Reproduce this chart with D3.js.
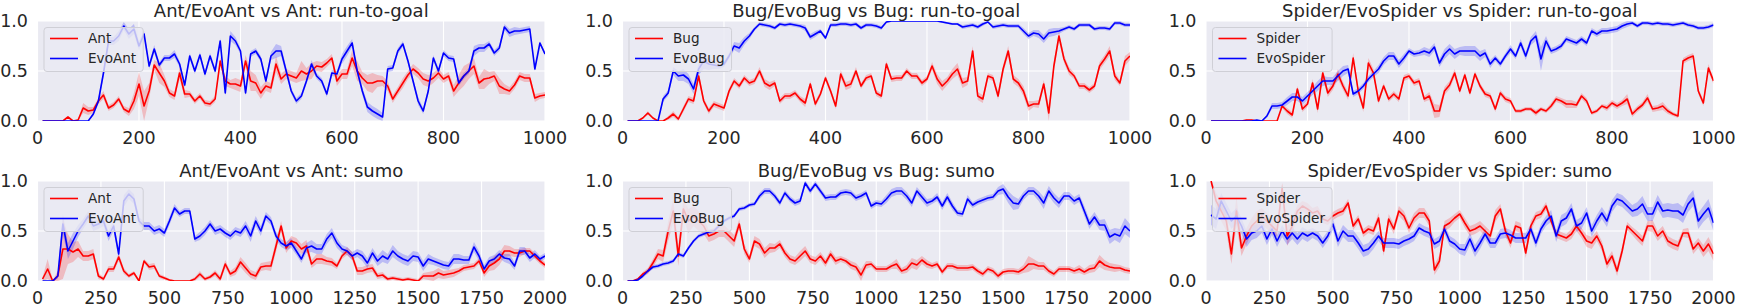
<!DOCTYPE html>
<html><head><meta charset="utf-8">
<script src="https://cdn.jsdelivr.net/npm/d3@7"></script>
<style>
html,body{margin:0;padding:0;background:#fff;}
svg text{font-family:"DejaVu Sans",sans-serif;fill:#262626;}
</style></head>
<body><svg id="c" width="1738" height="307"></svg>
<script>
// ---------- data ----------
const titles = [
  "Ant/EvoAnt vs Ant: run-to-goal", "Bug/EvoBug vs Bug: run-to-goal", "Spider/EvoSpider vs Spider: run-to-goal",
  "Ant/EvoAnt vs Ant: sumo", "Bug/EvoBug vs Bug: sumo", "Spider/EvoSpider vs Spider: sumo"
];
const baseNames = ["Ant", "Bug", "Spider", "Ant", "Bug", "Spider"];
const evoNames = ["EvoAnt", "EvoBug", "EvoSpider", "EvoAnt", "EvoBug", "EvoSpider"];
const xTicksRun = [0, 200, 400, 600, 800, 1000];
const xTicksSumo = [0, 250, 500, 750, 1000, 1250, 1500, 1750, 2000];
const yTicks = [0.0, 0.5, 1.0];
const stepsRun = d3.range(10, 1001, 10);
const stepsSumo = d3.range(20, 2001, 20);

// Ant run-to-goal
const antRunBase = [0,0,0,0,0,0.04,0,0.01,0.13,0.1, 0.11,0.2,0.26,0.13,0.16,0.22,0.12,0.09,0.2,0.37,
 0.15,0.3,0.56,0.48,0.4,0.28,0.25,0.48,0.27,0.27, 0.2,0.25,0.18,0.17,0.22,0.6,0.4,0.37,0.37,0.35,
 0.6,0.4,0.38,0.28,0.35,0.33,0.57,0.42,0.47,0.45, 0.43,0.5,0.47,0.5,0.55,0.54,0.58,0.63,0.4,0.47,
 0.47,0.63,0.5,0.43,0.38,0.38,0.4,0.4,0.35,0.22, 0.3,0.38,0.46,0.52,0.48,0.42,0.4,0.43,0.48,0.42,
 0.45,0.3,0.38,0.45,0.5,0.55,0.38,0.42,0.43,0.45, 0.35,0.32,0.3,0.36,0.45,0.43,0.43,0.23,0.25,0.26];
const antRunBaseSd = [0,0,0,0,0,0.01,0,0.01,0.05,0.04, 0.03,0.03,0.04,0.03,0.03,0.03,0.03,0.04,0.08,0.12,
 0.15,0.08,0.05,0.1,0.06,0.04,0.04,0.06,0.04,0.03, 0.03,0.03,0.03,0.03,0.03,0.04,0.05,0.04,0.06,0.06,
 0.06,0.1,0.08,0.06,0.05,0.05,0.08,0.05,0.05,0.05, 0.05,0.1,0.06,0.08,0.05,0.05,0.04,0.04,0.05,0.05,
 0.05,0.08,0.1,0.06,0.08,0.1,0.06,0.05,0.05,0.04, 0.04,0.05,0.04,0.05,0.05,0.06,0.06,0.05,0.05,0.04,
 0.04,0.06,0.08,0.1,0.08,0.08,0.06,0.1,0.06,0.05, 0.08,0.05,0.04,0.04,0.04,0.04,0.04,0.04,0.03,0.03];
const antRunEvo = [0,0,0,0,0,0,0,0,0,0, 0.07,0.2,0.48,0.8,0.8,0.85,0.95,0.87,0.92,0.75,
 0.87,0.55,0.72,0.56,0.63,0.63,0.67,0.57,0.36,0.65, 0.5,0.66,0.47,0.65,0.5,0.8,0.28,0.85,0.8,0.7,
 0.28,0.67,0.7,0.62,0.4,0.65,0.7,0.7,0.5,0.3, 0.2,0.25,0.4,0.57,0.45,0.4,0.27,0.48,0.47,0.62,
 0.7,0.78,0.5,0.3,0.14,0.1,0.07,0.04,0.52,0.53, 0.7,0.77,0.6,0.4,0.2,0.1,0.3,0.63,0.5,0.68,
 0.63,0.62,0.38,0.45,0.5,0.7,0.73,0.73,0.77,0.68, 0.73,0.94,0.88,0.9,0.9,0.91,0.92,0.52,0.78,0.67];
const antRunEvoSd = [0,0,0,0,0,0,0,0,0,0, 0.02,0.03,0.04,0.04,0.04,0.05,0.04,0.05,0.05,0.05,
 0.03,0.03,0.04,0.03,0.03,0.03,0.04,0.03,0.03,0.03, 0.03,0.03,0.03,0.03,0.03,0.03,0.03,0.05,0.04,0.03,
 0.03,0.03,0.03,0.03,0.03,0.04,0.07,0.05,0.04,0.03, 0.03,0.03,0.03,0.04,0.03,0.03,0.03,0.03,0.03,0.05,
 0.05,0.04,0.03,0.04,0.05,0.05,0.05,0.04,0.03,0.03, 0.03,0.03,0.03,0.03,0.04,0.03,0.03,0.03,0.03,0.03,
 0.03,0.03,0.03,0.03,0.03,0.05,0.04,0.04,0.03,0.03, 0.03,0.03,0.04,0.04,0.03,0.03,0.03,0.02,0.02,0.02];

// Bug run-to-goal
const bugRunBase = [0,0,0,0.03,0.08,0.03,0,0,0.03,0.07, 0.02,0.12,0.22,0.2,0.45,0.2,0.1,0.17,0.15,0.13,
 0.3,0.4,0.35,0.43,0.38,0.4,0.5,0.38,0.35,0.38, 0.2,0.25,0.25,0.28,0.22,0.18,0.37,0.17,0.27,0.43,
 0.3,0.15,0.47,0.35,0.37,0.5,0.35,0.43,0.45,0.28, 0.25,0.57,0.42,0.43,0.43,0.5,0.45,0.45,0.38,0.42,
 0.55,0.42,0.35,0.4,0.47,0.52,0.38,0.4,0.7,0.25, 0.22,0.45,0.43,0.25,0.52,0.7,0.42,0.38,0.3,0.15,
 0.17,0.17,0.37,0.08,0.55,0.85,0.62,0.5,0.45,0.35, 0.35,0.31,0.35,0.55,0.62,0.7,0.45,0.38,0.6,0.65];
const bugRunBaseSd = [0,0,0,0.01,0.02,0.01,0,0,0.02,0.03, 0.02,0.03,0.03,0.03,0.04,0.03,0.03,0.03,0.03,0.03,
 0.03,0.03,0.03,0.03,0.03,0.03,0.04,0.04,0.04,0.03, 0.03,0.03,0.03,0.03,0.03,0.04,0.03,0.03,0.03,0.03,
 0.03,0.03,0.04,0.04,0.04,0.04,0.03,0.03,0.03,0.03, 0.03,0.03,0.03,0.03,0.03,0.03,0.03,0.03,0.03,0.03,
 0.04,0.05,0.05,0.04,0.05,0.06,0.05,0.04,0.05,0.04, 0.04,0.03,0.03,0.04,0.04,0.05,0.04,0.04,0.05,0.05,
 0.03,0.04,0.04,0.08,0.05,0.05,0.04,0.04,0.03,0.03, 0.03,0.03,0.03,0.04,0.04,0.05,0.04,0.03,0.05,0.04];
const bugRunEvo = [0,0,0,0,0,0,0,0.22,0.28,0.5, 0.45,0.46,0.42,0.32,0.52,0.6,0.57,0.56,0.55,0.57,
 0.65,0.75,0.73,0.8,0.85,0.92,0.97,0.96,0.95,0.93, 0.97,0.96,0.97,0.96,0.95,0.93,0.84,0.87,0.9,0.83,
 0.96,0.96,0.97,0.97,0.96,0.97,0.93,0.96,0.96,0.95, 0.93,0.99,1.0,1.0,1.0,1.0,1.0,1.0,1.0,1.0,
 1.0,1.0,0.99,0.98,0.97,0.97,0.94,0.95,0.96,0.94, 0.97,0.99,0.94,0.95,0.96,0.95,0.95,0.95,0.9,0.85,
 0.88,0.87,0.82,0.88,0.89,0.9,0.92,0.94,0.92,0.96, 0.96,0.96,0.92,0.93,0.93,0.92,0.98,0.98,0.96,0.96];
const bugRunEvoSd = [0,0,0,0,0,0,0,0.03,0.03,0.04, 0.05,0.06,0.05,0.05,0.06,0.08,0.06,0.04,0.03,0.03,
 0.03,0.04,0.05,0.04,0.03,0.02,0.02,0.02,0.02,0.02, 0.02,0.02,0.02,0.02,0.02,0.03,0.03,0.03,0.02,0.02,
 0.02,0.02,0.02,0.02,0.02,0.02,0.02,0.02,0.02,0.02, 0.02,0.01,0.01,0.01,0.01,0.01,0.01,0.01,0.01,0.01,
 0.01,0.01,0.01,0.01,0.01,0.01,0.02,0.02,0.02,0.02, 0.02,0.01,0.02,0.02,0.02,0.02,0.02,0.02,0.03,0.03,
 0.03,0.04,0.04,0.04,0.04,0.03,0.02,0.02,0.02,0.02, 0.02,0.02,0.02,0.02,0.02,0.02,0.02,0.02,0.02,0.02];

// Spider run-to-goal
const spiderRunBase = [0,0,0,0,0,0,0,0.01,0.01,0, 0,0,0,0,0.15,0.1,0.06,0.32,0.12,0.17,
 0.38,0.12,0.48,0.28,0.35,0.47,0.35,0.25,0.63,0.3, 0.13,0.58,0.48,0.2,0.35,0.22,0.27,0.22,0.43,0.45,
 0.38,0.4,0.22,0.25,0.1,0.1,0.3,0.36,0.48,0.3, 0.46,0.28,0.47,0.35,0.27,0.25,0.12,0.28,0.22,0.2,
 0.1,0.1,0.12,0.12,0.08,0.12,0.1,0.15,0.22,0.2, 0.17,0.17,0.16,0.25,0.2,0.08,0.1,0.15,0.13,0.18,
 0.15,0.18,0.22,0.07,0.12,0.16,0.23,0.12,0.13,0.15, 0.1,0.07,0.05,0.6,0.63,0.65,0.3,0.18,0.53,0.4];
const spiderRunBaseSd = [0,0,0,0,0,0,0,0.01,0.01,0, 0,0,0,0,0.02,0.03,0.03,0.03,0.03,0.03,
 0.04,0.04,0.05,0.04,0.04,0.05,0.04,0.04,0.05,0.04, 0.04,0.05,0.04,0.03,0.03,0.03,0.03,0.03,0.03,0.03,
 0.03,0.03,0.03,0.04,0.07,0.06,0.04,0.04,0.04,0.03, 0.03,0.03,0.03,0.03,0.03,0.03,0.03,0.03,0.03,0.03,
 0.02,0.02,0.02,0.02,0.03,0.02,0.02,0.03,0.03,0.03, 0.04,0.04,0.03,0.03,0.03,0.02,0.02,0.02,0.03,0.03,
 0.03,0.03,0.05,0.03,0.03,0.03,0.04,0.03,0.03,0.04, 0.03,0.02,0.02,0.03,0.03,0.03,0.03,0.03,0.04,0.03];
const spiderRunEvo = [0,0,0,0,0,0,0,0,0,0.01, 0,0.05,0.15,0.15,0.16,0.2,0.24,0.24,0.2,0.25,
 0.3,0.35,0.4,0.4,0.4,0.45,0.5,0.52,0.27,0.3, 0.35,0.42,0.47,0.52,0.6,0.65,0.65,0.57,0.63,0.7,
 0.67,0.68,0.7,0.68,0.74,0.58,0.67,0.72,0.67,0.7, 0.7,0.7,0.7,0.65,0.68,0.57,0.63,0.57,0.65,0.72,
 0.65,0.78,0.65,0.8,0.85,0.62,0.8,0.7,0.72,0.75, 0.82,0.8,0.78,0.82,0.78,0.9,0.87,0.9,0.9,0.91,
 0.92,0.95,0.97,0.98,0.95,0.98,0.98,0.97,0.98,0.97, 0.97,0.96,0.97,0.98,0.96,0.95,0.93,0.93,0.94,0.96];
const spiderRunEvoSd = [0,0,0,0,0,0,0,0,0,0, 0,0.02,0.03,0.03,0.03,0.04,0.04,0.04,0.04,0.04,
 0.04,0.05,0.05,0.04,0.04,0.05,0.05,0.04,0.03,0.03, 0.03,0.03,0.03,0.04,0.04,0.04,0.04,0.04,0.04,0.03,
 0.03,0.03,0.04,0.04,0.04,0.04,0.05,0.05,0.05,0.04, 0.05,0.05,0.05,0.05,0.04,0.04,0.03,0.03,0.03,0.04,
 0.03,0.04,0.04,0.04,0.05,0.12,0.05,0.03,0.03,0.03, 0.03,0.03,0.03,0.03,0.03,0.03,0.03,0.03,0.03,0.03,
 0.03,0.03,0.03,0.02,0.02,0.02,0.02,0.02,0.02,0.02, 0.02,0.02,0.02,0.02,0.02,0.02,0.02,0.02,0.02,0.02];

// Ant sumo
const antSumoBase = [0.02,0.12,0.0,0.05,0.32,0.32,0.29,0.32,0.25,0.25, 0.27,0.05,0.02,0.12,0.12,0.24,0.1,0.05,0.08,0.0,
 0.2,0.14,0.15,0.05,0.03,0.01,0.0,0.0,0.0,0.0, 0.02,0.07,0.02,0.04,0.08,0.02,0.17,0.07,0.1,0.19,
 0.13,0.07,0.05,0.14,0.15,0.15,0.35,0.55,0.33,0.4, 0.38,0.32,0.35,0.17,0.22,0.22,0.2,0.19,0.15,0.25,
 0.3,0.25,0.1,0.1,0.12,0.13,0.05,0.06,0.02,0.03, 0.02,0.01,0.02,0.01,0.0,0.05,0.05,0.05,0.08,0.06,
 0.07,0.08,0.1,0.13,0.14,0.15,0.2,0.08,0.15,0.18, 0.22,0.3,0.3,0.28,0.28,0.3,0.3,0.25,0.2,0.16];
const antSumoBaseSd = [0.02,0.1,0.01,0.05,0.3,0.15,0.1,0.08,0.05,0.05, 0.05,0.03,0.02,0.03,0.03,0.04,0.03,0.02,0.02,0.01,
 0.02,0.03,0.03,0.02,0.02,0.01,0.01,0.01,0.01,0.01, 0.02,0.03,0.02,0.02,0.03,0.03,0.04,0.03,0.04,0.05,
 0.05,0.04,0.04,0.04,0.04,0.05,0.06,0.05,0.05,0.05, 0.05,0.05,0.06,0.04,0.05,0.05,0.04,0.04,0.03,0.03,
 0.04,0.04,0.04,0.04,0.04,0.04,0.03,0.03,0.02,0.02, 0.02,0.02,0.02,0.02,0.02,0.03,0.04,0.05,0.05,0.04,
 0.04,0.04,0.03,0.03,0.03,0.03,0.03,0.04,0.05,0.07, 0.06,0.06,0.05,0.04,0.04,0.03,0.03,0.03,0.03,0.03];
const antSumoEvo = [0,0,0,0.05,0.57,0.3,0.4,0.5,0.57,0.65, 0.55,0.57,0.6,0.45,0.55,0.27,0.8,0.87,0.82,0.6,
 0.55,0.55,0.5,0.52,0.48,0.6,0.73,0.67,0.7,0.7, 0.42,0.45,0.5,0.57,0.5,0.52,0.48,0.45,0.5,0.48,
 0.55,0.45,0.6,0.5,0.65,0.6,0.45,0.38,0.35,0.38, 0.3,0.22,0.33,0.35,0.32,0.32,0.42,0.48,0.38,0.32,
 0.3,0.25,0.28,0.25,0.18,0.28,0.2,0.25,0.22,0.3, 0.25,0.22,0.2,0.25,0.24,0.15,0.22,0.2,0.18,0.16,
 0.15,0.22,0.22,0.21,0.21,0.34,0.25,0.12,0.2,0.22, 0.27,0.23,0.22,0.15,0.3,0.3,0.23,0.27,0.22,0.25];
const antSumoEvoSd = [0,0,0,0.03,0.1,0.08,0.08,0.06,0.05,0.05, 0.05,0.05,0.05,0.05,0.05,0.05,0.06,0.05,0.05,0.04,
 0.04,0.04,0.04,0.04,0.04,0.04,0.04,0.03,0.03,0.03, 0.03,0.04,0.04,0.04,0.04,0.04,0.04,0.04,0.04,0.04,
 0.05,0.06,0.05,0.05,0.04,0.04,0.04,0.04,0.04,0.05, 0.04,0.04,0.05,0.06,0.05,0.05,0.05,0.05,0.05,0.04,
 0.04,0.04,0.04,0.05,0.05,0.05,0.05,0.06,0.05,0.06, 0.05,0.05,0.05,0.05,0.05,0.05,0.05,0.04,0.04,0.04,
 0.04,0.05,0.05,0.04,0.04,0.05,0.05,0.04,0.04,0.04, 0.04,0.04,0.05,0.04,0.04,0.04,0.04,0.04,0.03,0.03];

// Bug sumo
const bugSumoBase = [0,0,0.02,0.07,0.1,0.18,0.27,0.25,0.5,0.7, 0.25,0.72,0.6,0.65,0.6,0.55,0.45,0.47,0.5,0.5,
 0.45,0.4,0.57,0.32,0.22,0.4,0.37,0.28,0.33,0.33, 0.37,0.28,0.22,0.2,0.25,0.3,0.22,0.2,0.25,0.18,
 0.27,0.2,0.22,0.2,0.16,0.14,0.06,0.16,0.17,0.12, 0.12,0.12,0.15,0.17,0.1,0.12,0.18,0.16,0.21,0.17,
 0.15,0.17,0.09,0.15,0.15,0.13,0.13,0.13,0.14,0.1, 0.07,0.12,0.1,0.05,0.09,0.1,0.1,0.09,0.12,0.17,
 0.17,0.15,0.15,0.1,0.07,0.12,0.12,0.12,0.1,0.12, 0.09,0.12,0.13,0.2,0.16,0.14,0.13,0.13,0.11,0.1];
const bugSumoBaseSd = [0,0,0.01,0.02,0.03,0.04,0.05,0.06,0.1,0.12, 0.1,0.1,0.12,0.1,0.1,0.08,0.06,0.06,0.06,0.06,
 0.06,0.06,0.05,0.05,0.04,0.05,0.05,0.05,0.05,0.04, 0.04,0.04,0.04,0.04,0.05,0.05,0.04,0.04,0.04,0.04,
 0.04,0.04,0.03,0.03,0.04,0.04,0.06,0.04,0.03,0.03, 0.03,0.03,0.03,0.05,0.03,0.04,0.05,0.05,0.04,0.04,
 0.03,0.03,0.03,0.03,0.03,0.03,0.03,0.03,0.03,0.03, 0.03,0.03,0.03,0.03,0.03,0.03,0.03,0.03,0.04,0.08,
 0.05,0.04,0.04,0.03,0.03,0.03,0.03,0.03,0.03,0.04, 0.03,0.04,0.04,0.06,0.05,0.04,0.04,0.03,0.03,0.03];
const bugSumoEvo = [0,0,0.01,0.05,0.1,0.14,0.15,0.17,0.18,0.2, 0.27,0.25,0.33,0.4,0.45,0.47,0.49,0.5,0.55,0.6,
 0.63,0.65,0.72,0.73,0.76,0.77,0.85,0.9,0.9,0.85, 0.78,0.88,0.82,0.78,0.8,0.98,0.9,0.97,0.9,0.83,
 0.84,0.84,0.88,0.89,0.88,0.83,0.85,0.88,0.75,0.78, 0.77,0.82,0.88,0.9,0.9,0.85,0.78,0.9,0.84,0.78,
 0.8,0.84,0.75,0.84,0.75,0.68,0.67,0.82,0.76,0.79, 0.81,0.83,0.84,0.9,0.92,0.84,0.78,0.77,0.85,0.9,
 0.9,0.85,0.78,0.9,0.83,0.78,0.85,0.85,0.8,0.83, 0.7,0.57,0.64,0.56,0.56,0.44,0.47,0.45,0.55,0.5];
const bugSumoEvoSd = [0,0,0.01,0.02,0.02,0.02,0.02,0.02,0.02,0.02, 0.02,0.02,0.02,0.02,0.02,0.02,0.02,0.02,0.02,0.02,
 0.02,0.02,0.02,0.02,0.02,0.02,0.03,0.03,0.03,0.03, 0.03,0.03,0.03,0.03,0.03,0.03,0.03,0.03,0.03,0.03,
 0.03,0.03,0.03,0.03,0.03,0.03,0.03,0.03,0.03,0.03, 0.03,0.04,0.04,0.04,0.04,0.04,0.04,0.04,0.04,0.04,
 0.03,0.04,0.04,0.04,0.04,0.03,0.03,0.04,0.03,0.03, 0.03,0.03,0.03,0.04,0.05,0.06,0.07,0.05,0.04,0.04,
 0.04,0.05,0.06,0.05,0.05,0.05,0.04,0.04,0.04,0.04, 0.05,0.05,0.05,0.05,0.06,0.07,0.06,0.07,0.08,0.07];

// Spider sumo
const spiderSumoBase = [1.0,0.8,0.7,0.6,0.27,0.7,0.33,0.45,0.55,0.6, 0.65,0.6,0.55,0.5,0.93,0.45,0.55,0.7,0.75,0.72,
 0.68,0.7,0.62,0.6,0.65,0.68,0.7,0.78,0.55,0.62, 0.48,0.52,0.5,0.63,0.3,0.62,0.52,0.7,0.65,0.53,
 0.63,0.68,0.68,0.6,0.11,0.2,0.55,0.58,0.63,0.67, 0.58,0.5,0.52,0.55,0.5,0.45,0.65,0.72,0.5,0.38,
 0.55,0.53,0.28,0.55,0.65,0.67,0.75,0.6,0.47,0.45, 0.43,0.47,0.55,0.48,0.4,0.38,0.45,0.35,0.17,0.25,
 0.1,0.3,0.55,0.5,0.45,0.4,0.55,0.55,0.45,0.5, 0.4,0.37,0.35,0.48,0.48,0.32,0.38,0.3,0.37,0.27];
const spiderSumoBaseSd = [0.02,0.08,0.1,0.1,0.1,0.15,0.08,0.08,0.08,0.1, 0.08,0.08,0.08,0.06,0.05,0.1,0.08,0.06,0.05,0.06,
 0.05,0.05,0.04,0.04,0.04,0.04,0.04,0.04,0.04,0.04, 0.04,0.04,0.04,0.05,0.05,0.05,0.05,0.05,0.05,0.05,
 0.05,0.05,0.05,0.05,0.05,0.06,0.05,0.05,0.04,0.04, 0.05,0.05,0.05,0.05,0.05,0.05,0.06,0.05,0.05,0.05,
 0.05,0.05,0.05,0.05,0.04,0.04,0.04,0.04,0.04,0.04, 0.04,0.05,0.05,0.05,0.06,0.06,0.05,0.05,0.05,0.05,
 0.05,0.05,0.04,0.04,0.05,0.05,0.05,0.06,0.05,0.05, 0.05,0.05,0.05,0.04,0.05,0.05,0.05,0.06,0.07,0.07];
const spiderSumoEvo = [0.66,0.62,0.8,0.7,0.6,0.65,0.55,0.42,0.48,0.5, 0.55,0.42,0.52,0.4,0.5,0.42,0.48,0.42,0.48,0.45,
 0.48,0.45,0.38,0.45,0.57,0.4,0.5,0.45,0.45,0.38, 0.3,0.32,0.38,0.45,0.38,0.38,0.38,0.37,0.4,0.42,
 0.45,0.53,0.5,0.48,0.37,0.4,0.52,0.4,0.37,0.32, 0.31,0.42,0.3,0.38,0.47,0.38,0.38,0.47,0.48,0.46,
 0.43,0.43,0.43,0.52,0.38,0.52,0.6,0.65,0.45,0.6, 0.63,0.72,0.55,0.58,0.68,0.5,0.6,0.68,0.6,0.75,
 0.82,0.8,0.75,0.7,0.72,0.77,0.67,0.67,0.79,0.7, 0.71,0.7,0.7,0.66,0.77,0.83,0.6,0.67,0.73,0.58];
const spiderSumoEvoSd = [0.1,0.1,0.08,0.08,0.08,0.08,0.08,0.08,0.07,0.07, 0.07,0.06,0.06,0.06,0.06,0.06,0.06,0.06,0.06,0.06,
 0.05,0.05,0.05,0.05,0.06,0.06,0.06,0.06,0.06,0.06, 0.06,0.06,0.06,0.05,0.05,0.05,0.05,0.05,0.05,0.05,
 0.05,0.05,0.05,0.05,0.05,0.05,0.05,0.05,0.05,0.05, 0.06,0.06,0.06,0.06,0.05,0.05,0.05,0.05,0.05,0.05,
 0.05,0.05,0.05,0.05,0.05,0.05,0.05,0.06,0.06,0.06, 0.06,0.06,0.06,0.06,0.06,0.06,0.06,0.06,0.06,0.06,
 0.06,0.06,0.06,0.06,0.07,0.08,0.07,0.07,0.07,0.07, 0.07,0.07,0.08,0.08,0.08,0.08,0.08,0.08,0.09,0.08];

// ---------- layout ----------
const colX = [37.5, 622.5, 1206];
const rowY = [21, 181];
const PW = 507.5, PH = 100;
const BG = "#EAEAF2", RED = "#ff0000", BLUE = "#0000ff";

const panels = [
  {steps: stepsRun, ticks: xTicksRun, xmax: 1000, base: antRunBase, baseSd: antRunBaseSd, evo: antRunEvo, evoSd: antRunEvoSd},
  {steps: stepsRun, ticks: xTicksRun, xmax: 1000, base: bugRunBase, baseSd: bugRunBaseSd, evo: bugRunEvo, evoSd: bugRunEvoSd},
  {steps: stepsRun, ticks: xTicksRun, xmax: 1000, base: spiderRunBase, baseSd: spiderRunBaseSd, evo: spiderRunEvo, evoSd: spiderRunEvoSd},
  {steps: stepsSumo, ticks: xTicksSumo, xmax: 2000, base: antSumoBase, baseSd: antSumoBaseSd, evo: antSumoEvo, evoSd: antSumoEvoSd},
  {steps: stepsSumo, ticks: xTicksSumo, xmax: 2000, base: bugSumoBase, baseSd: bugSumoBaseSd, evo: bugSumoEvo, evoSd: bugSumoEvoSd},
  {steps: stepsSumo, ticks: xTicksSumo, xmax: 2000, base: spiderSumoBase, baseSd: spiderSumoBaseSd, evo: spiderSumoEvo, evoSd: spiderSumoEvoSd}
];

const svg = d3.select("#c");
const defs = svg.append("defs");

panels.forEach((p, i) => {
  const r = Math.floor(i / 3), c = i % 3;
  const x0 = colX[c], y0 = rowY[r];
  const g = svg.append("g").attr("transform", `translate(${x0},${y0})`);
  const x = d3.scaleLinear().domain([0, p.xmax]).range([0, PW]);
  const y = d3.scaleLinear().domain([0, 1]).range([PH, 0]);

  g.append("rect").attr("width", PW).attr("height", PH).attr("fill", BG);

  // grid
  g.selectAll(".vg").data(p.ticks).enter().append("line")
    .attr("x1", d => x(d)).attr("x2", d => x(d)).attr("y1", 0).attr("y2", PH)
    .attr("stroke", "#fff").attr("stroke-width", 1.1);
  g.selectAll(".hg").data(yTicks).enter().append("line")
    .attr("x1", 0).attr("x2", PW).attr("y1", d => y(d)).attr("y2", d => y(d))
    .attr("stroke", "#fff").attr("stroke-width", 1.1);

  // tick labels
  g.selectAll(".xt").data(p.ticks).enter().append("text")
    .attr("x", d => x(d)).attr("y", PH + 23).attr("text-anchor", "middle")
    .attr("font-size", 17.5).text(d => d);
  g.selectAll(".yt").data(yTicks).enter().append("text")
    .attr("x", -9.5).attr("y", d => y(d)).attr("dy", "0.36em").attr("text-anchor", "end")
    .attr("font-size", 17.5).text(d => d.toFixed(1));

  // title
  g.append("text").attr("x", PW / 2).attr("y", -4).attr("text-anchor", "middle")
    .attr("font-size", 18).text(titles[i]);

  // clip
  const cid = "clip" + i;
  defs.append("clipPath").attr("id", cid).append("rect").attr("width", PW).attr("height", PH);
  const plot = g.append("g").attr("clip-path", `url(#${cid})`);

  const series = [
    {vals: p.base, sd: p.baseSd, color: RED},
    {vals: p.evo, sd: p.evoSd, color: BLUE}
  ];
  const area = d3.area().x(d => x(d.s)).y0(d => y(d.v - d.e)).y1(d => y(d.v + d.e));
  const line = d3.line().x(d => x(d.s)).y(d => y(d.v));
  series.forEach(s => {
    const pts = p.steps.map((st, k) => ({s: st, v: s.vals[k], e: s.sd[k]}));
    plot.append("path").datum(pts).attr("d", area).attr("fill", s.color).attr("fill-opacity", 0.2);
  });
  series.forEach(s => {
    const pts = p.steps.map((st, k) => ({s: st, v: s.vals[k]}));
    plot.append("path").datum(pts).attr("d", line).attr("fill", "none")
      .attr("stroke", s.color).attr("stroke-width", 1.6).attr("stroke-linejoin", "round");
  });

  // legend
  const lg = g.append("g").attr("transform", "translate(6.5,6.5)");
  const box = lg.append("rect").attr("rx", 3).attr("ry", 3)
    .attr("fill", BG).attr("fill-opacity", 0.8).attr("stroke", "#cfcfd6").attr("stroke-width", 1);
  const names = [baseNames[i], evoNames[i]];
  const cols = [RED, BLUE];
  let maxW = 0;
  names.forEach((n, k) => {
    const yy = 11 + k * 20;
    lg.append("line").attr("x1", 6).attr("x2", 34).attr("y1", yy).attr("y2", yy)
      .attr("stroke", cols[k]).attr("stroke-width", 1.6);
    const t = lg.append("text").attr("x", 44).attr("y", yy).attr("dy", "0.36em")
      .attr("font-size", 13.6).text(n);
    maxW = Math.max(maxW, t.node().getComputedTextLength());
  });
  box.attr("width", 44 + maxW + 7).attr("height", 44);
});
</script>
</body></html>
